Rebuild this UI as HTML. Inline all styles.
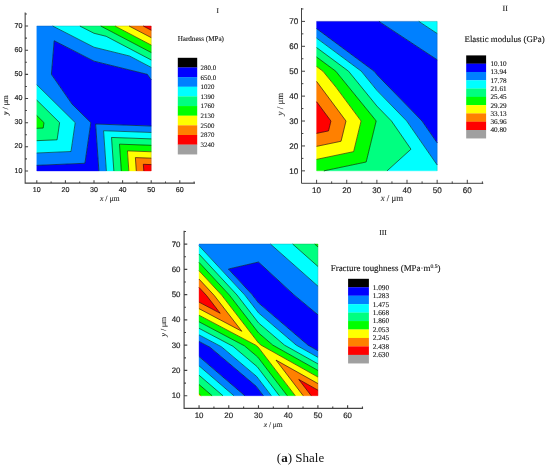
<!DOCTYPE html>
<html><head><meta charset="utf-8"><title>Shale</title>
<style>
html,body{margin:0;padding:0;background:#fff;}
body{width:550px;height:470px;overflow:hidden;position:relative;}
svg{position:absolute;left:0;top:0;display:block;}
.cap{position:absolute;left:0;top:449px;width:601px;text-align:center;font-family:"Liberation Serif","Times New Roman",serif;font-size:13px;line-height:18px;color:#111;white-space:nowrap;}
</style></head><body>
<svg width="550" height="470" viewBox="0 0 550 470" text-rendering="geometricPrecision">
<rect width="550" height="470" fill="#fff"/>
<g>
<path d="M72.00,104.07 L51.40,74.35 L54.20,40.74 L94.00,61.16 L147.39,74.35 L151.20,79.84 L151.20,126.04 L95.61,124.01 L98.90,170.95 L36.80,170.95 L36.80,165.35 L84.91,163.27 L90.83,122.65Z" fill="#0000FF" fill-rule="evenodd" stroke="#0000FF" stroke-width="0.4"/>
<path d="M36.80,84.76 L36.80,26.05 L52.73,26.05 L94.00,47.22 L129.44,55.98 L151.20,67.41 L151.20,79.84 L147.39,74.35 L94.00,61.16 L54.20,40.74 L51.40,74.35 L72.00,104.07 L90.83,122.65 L84.91,163.27 L36.80,165.35 L36.80,153.00 L71.00,151.53 L75.21,122.65ZM95.61,124.01 L151.20,126.04 L151.20,132.47 L103.57,130.73 L106.38,170.95 L98.90,170.95Z" fill="#0080FF" fill-rule="evenodd" stroke="#0080FF" stroke-width="0.4"/>
<path d="M151.20,132.47 L151.20,138.89 L111.53,137.45 L113.87,170.95 L106.38,170.95 L103.57,130.73ZM71.00,151.53 L36.80,153.00 L36.80,140.66 L57.09,139.79 L59.60,122.65 L36.80,100.17 L36.80,84.76 L75.21,122.65ZM129.44,55.98 L94.00,47.22 L52.73,26.05 L79.90,26.05 L94.00,33.28 L106.11,36.27 L151.20,59.96 L151.20,67.41Z" fill="#00FFFF" fill-rule="evenodd" stroke="#00FFFF" stroke-width="0.4"/>
<path d="M111.53,137.45 L151.20,138.89 L151.20,145.32 L119.48,144.17 L121.36,170.95 L113.87,170.95ZM59.60,122.65 L57.09,139.79 L36.80,140.66 L36.80,128.32 L43.19,128.04 L43.98,122.65 L36.80,115.57 L36.80,100.17ZM151.20,59.96 L106.11,36.27 L94.00,33.28 L79.90,26.05 L100.82,26.05 L151.20,52.51Z" fill="#00FF80" fill-rule="evenodd" stroke="#00FF80" stroke-width="0.4"/>
<path d="M119.48,144.17 L151.20,145.32 L151.20,151.75 L127.44,150.89 L128.84,170.95 L121.36,170.95ZM36.80,128.32 L36.80,115.57 L43.98,122.65 L43.19,128.04ZM151.20,45.07 L151.20,52.51 L100.82,26.05 L115.00,26.05Z" fill="#00FF00" fill-rule="evenodd" stroke="#00FF00" stroke-width="0.4"/>
<path d="M127.44,150.89 L151.20,151.75 L151.20,158.18 L135.39,157.60 L136.33,170.95 L128.84,170.95ZM129.17,26.05 L151.20,37.62 L151.20,45.07 L114.99,26.05Z" fill="#FFFF00" fill-rule="evenodd" stroke="#FFFF00" stroke-width="0.4"/>
<path d="M135.39,157.60 L151.20,158.18 L151.20,164.61 L143.35,164.32 L143.81,170.95 L136.33,170.95ZM143.35,26.05 L151.20,30.18 L151.20,37.62 L129.17,26.05Z" fill="#FF8000" fill-rule="evenodd" stroke="#FF8000" stroke-width="0.4"/>
<path d="M143.35,164.32 L151.20,164.61 L151.20,170.95 L143.81,170.95ZM151.20,26.05 L151.20,30.18 L143.35,26.05Z" fill="#FF0000" fill-rule="evenodd" stroke="#FF0000" stroke-width="0.4"/>
<path d="M36.80,165.35 L84.91,163.27 L90.83,122.65 L72.00,104.07 L51.40,74.35 L54.20,40.74 L94.00,61.16 L147.39,74.35 L151.20,79.84M98.90,170.95 L95.61,124.01 L151.20,126.04M36.80,153.00 L71.00,151.53 L75.21,122.65 L36.80,84.76M52.73,26.05 L94.00,47.22 L129.44,55.98 L151.20,67.41M106.38,170.95 L103.57,130.73 L151.20,132.47M36.80,140.66 L57.09,139.79 L59.60,122.65 L36.80,100.17M79.90,26.05 L94.00,33.28 L106.11,36.27 L151.20,59.96M113.87,170.95 L111.53,137.45 L151.20,138.89M36.80,128.32 L43.19,128.04 L43.98,122.65 L36.80,115.57M151.20,52.51 L100.82,26.05M121.36,170.95 L119.48,144.17 L151.20,145.32M151.20,45.07 L115.00,26.05M128.84,170.95 L127.44,150.89 L151.20,151.75M151.20,37.62 L129.17,26.05M136.33,170.95 L135.39,157.60 L151.20,158.18M151.20,30.18 L143.35,26.05M143.81,170.95 L143.35,164.32 L151.20,164.61" fill="none" stroke="#000" stroke-width="0.55" stroke-linejoin="round"/>
<path d="M36.80,26.05 H151.20 V170.95" fill="none" stroke="#000" stroke-opacity="0.35" stroke-width="0.4"/>
<path d="M25.15,13.00 V183.10 H194.50M36.80,183.10 v-2.40M65.40,183.10 v-2.40M94.00,183.10 v-2.40M122.60,183.10 v-2.40M151.20,183.10 v-2.40M179.80,183.10 v-2.40M51.10,183.10 v-1.20M79.70,183.10 v-1.20M108.30,183.10 v-1.20M136.90,183.10 v-1.20M165.50,183.10 v-1.20M194.10,183.10 v-1.20M25.15,170.95 h2.40M25.15,146.80 h2.40M25.15,122.65 h2.40M25.15,98.50 h2.40M25.15,74.35 h2.40M25.15,50.20 h2.40M25.15,26.05 h2.40M25.15,158.88 h1.20M25.15,134.72 h1.20M25.15,110.57 h1.20M25.15,86.42 h1.20M25.15,62.28 h1.20M25.15,38.12 h1.20M25.15,13.98 h1.20" fill="none" stroke="#404040" stroke-width="1.05" stroke-linecap="square"/>
<text x="36.80" y="191.60" font-size="7.10" text-anchor="middle" font-family="Liberation Sans, Arial, sans-serif" stroke="#222" stroke-width="0.18" fill="#222">10</text>
<text x="65.40" y="191.60" font-size="7.10" text-anchor="middle" font-family="Liberation Sans, Arial, sans-serif" stroke="#222" stroke-width="0.18" fill="#222">20</text>
<text x="94.00" y="191.60" font-size="7.10" text-anchor="middle" font-family="Liberation Sans, Arial, sans-serif" stroke="#222" stroke-width="0.18" fill="#222">30</text>
<text x="122.60" y="191.60" font-size="7.10" text-anchor="middle" font-family="Liberation Sans, Arial, sans-serif" stroke="#222" stroke-width="0.18" fill="#222">40</text>
<text x="151.20" y="191.60" font-size="7.10" text-anchor="middle" font-family="Liberation Sans, Arial, sans-serif" stroke="#222" stroke-width="0.18" fill="#222">50</text>
<text x="179.80" y="191.60" font-size="7.10" text-anchor="middle" font-family="Liberation Sans, Arial, sans-serif" stroke="#222" stroke-width="0.18" fill="#222">60</text>
<text x="22.45" y="172.59" font-size="7.10" text-anchor="end" font-family="Liberation Sans, Arial, sans-serif" stroke="#222" stroke-width="0.18" fill="#222">10</text>
<text x="22.45" y="148.44" font-size="7.10" text-anchor="end" font-family="Liberation Sans, Arial, sans-serif" stroke="#222" stroke-width="0.18" fill="#222">20</text>
<text x="22.45" y="124.29" font-size="7.10" text-anchor="end" font-family="Liberation Sans, Arial, sans-serif" stroke="#222" stroke-width="0.18" fill="#222">30</text>
<text x="22.45" y="100.14" font-size="7.10" text-anchor="end" font-family="Liberation Sans, Arial, sans-serif" stroke="#222" stroke-width="0.18" fill="#222">40</text>
<text x="22.45" y="75.99" font-size="7.10" text-anchor="end" font-family="Liberation Sans, Arial, sans-serif" stroke="#222" stroke-width="0.18" fill="#222">50</text>
<text x="22.45" y="51.84" font-size="7.10" text-anchor="end" font-family="Liberation Sans, Arial, sans-serif" stroke="#222" stroke-width="0.18" fill="#222">60</text>
<text x="22.45" y="27.69" font-size="7.10" text-anchor="end" font-family="Liberation Sans, Arial, sans-serif" stroke="#222" stroke-width="0.18" fill="#222">70</text>
<text x="109.80" y="201.30" font-size="7.80" text-anchor="middle" font-family="Liberation Serif, Times New Roman, serif" stroke="#222" stroke-width="0.12" fill="#333"><tspan font-style="italic">x</tspan> / μm</text>
<text transform="translate(8.30,105.00) rotate(-90)" font-size="7.80" text-anchor="middle" font-family="Liberation Serif, Times New Roman, serif" stroke="#222" stroke-width="0.12" fill="#333"><tspan font-style="italic">y</tspan> / μm</text>
<rect x="177.80" y="57.80" width="19.40" height="9.80" fill="#000000"/>
<rect x="177.80" y="67.45" width="19.40" height="9.80" fill="#0000FF"/>
<rect x="177.80" y="77.10" width="19.40" height="9.80" fill="#0080FF"/>
<rect x="177.80" y="86.75" width="19.40" height="9.80" fill="#00FFFF"/>
<rect x="177.80" y="96.40" width="19.40" height="9.80" fill="#00FF80"/>
<rect x="177.80" y="106.05" width="19.40" height="9.80" fill="#00FF00"/>
<rect x="177.80" y="115.70" width="19.40" height="9.80" fill="#FFFF00"/>
<rect x="177.80" y="125.35" width="19.40" height="9.80" fill="#FF8000"/>
<rect x="177.80" y="135.00" width="19.40" height="9.80" fill="#FF0000"/>
<rect x="177.80" y="144.65" width="19.40" height="9.80" fill="#A0A0A0"/>
<text x="200.60" y="69.85" font-size="6.90" font-family="Liberation Serif, Times New Roman, serif" stroke="#222" stroke-width="0.12" fill="#111">280.0</text>
<text x="200.60" y="79.50" font-size="6.90" font-family="Liberation Serif, Times New Roman, serif" stroke="#222" stroke-width="0.12" fill="#111">650.0</text>
<text x="200.60" y="89.15" font-size="6.90" font-family="Liberation Serif, Times New Roman, serif" stroke="#222" stroke-width="0.12" fill="#111">1020</text>
<text x="200.60" y="98.80" font-size="6.90" font-family="Liberation Serif, Times New Roman, serif" stroke="#222" stroke-width="0.12" fill="#111">1390</text>
<text x="200.60" y="108.45" font-size="6.90" font-family="Liberation Serif, Times New Roman, serif" stroke="#222" stroke-width="0.12" fill="#111">1760</text>
<text x="200.60" y="118.10" font-size="6.90" font-family="Liberation Serif, Times New Roman, serif" stroke="#222" stroke-width="0.12" fill="#111">2130</text>
<text x="200.60" y="127.75" font-size="6.90" font-family="Liberation Serif, Times New Roman, serif" stroke="#222" stroke-width="0.12" fill="#111">2500</text>
<text x="200.60" y="137.40" font-size="6.90" font-family="Liberation Serif, Times New Roman, serif" stroke="#222" stroke-width="0.12" fill="#111">2870</text>
<text x="200.60" y="147.05" font-size="6.90" font-family="Liberation Serif, Times New Roman, serif" stroke="#222" stroke-width="0.12" fill="#111">3240</text>
<text x="177.70" y="41.40" font-size="7.10" font-family="Liberation Serif, Times New Roman, serif" stroke="#222" stroke-width="0.12" fill="#111">Hardness (MPa)</text>
<text x="216.40" y="12.90" font-size="7.20" font-family="Liberation Serif, Times New Roman, serif" stroke="#222" stroke-width="0.12" fill="#111">I</text>
</g>
<g>
<path d="M437.15,59.74 L437.15,142.86 L422.04,121.03 L376.88,74.66 L374.08,71.22 L316.60,28.65 L316.60,21.40 L378.95,21.40Z" fill="#0000FF" fill-rule="evenodd" stroke="#0000FF" stroke-width="0.4"/>
<path d="M376.88,90.37 L361.29,71.22 L316.60,38.12 L316.60,28.65 L374.08,71.22 L376.88,74.66 L422.04,121.03 L437.15,142.86 L437.15,164.98 L406.73,121.03ZM437.15,33.50 L437.15,59.74 L378.95,21.40 L418.79,21.40Z" fill="#0080FF" fill-rule="evenodd" stroke="#0080FF" stroke-width="0.4"/>
<path d="M391.47,121.03 L376.88,106.05 L348.54,71.22 L316.60,47.57 L316.60,38.12 L361.29,71.22 L376.88,90.37 L406.73,121.03 L437.15,164.98 L437.15,170.85 L387.04,170.85 L410.97,149.21ZM437.15,33.50 L418.79,21.40 L437.15,21.40Z" fill="#00FFFF" fill-rule="evenodd" stroke="#00FFFF" stroke-width="0.4"/>
<path d="M391.47,121.03 L410.97,149.21 L387.04,170.85 L323.89,170.85 L366.17,162.01 L376.17,121.03 L375.05,119.52 L335.75,71.22 L316.60,57.04 L316.60,47.57 L348.54,71.22 L376.88,106.05Z" fill="#00FF80" fill-rule="evenodd" stroke="#00FF80" stroke-width="0.4"/>
<path d="M361.07,121.03 L336.01,87.26 L322.96,71.22 L316.60,66.51 L316.60,57.04 L335.75,71.22 L375.05,119.52 L376.17,121.03 L366.17,162.01 L323.89,170.85 L316.60,170.85 L316.60,159.36 L353.61,151.62Z" fill="#00FF00" fill-rule="evenodd" stroke="#00FF00" stroke-width="0.4"/>
<path d="M345.97,121.03 L316.60,81.44 L316.60,66.51 L322.96,71.22 L336.01,87.26 L361.07,121.03 L353.61,151.62 L316.60,159.36 L316.60,146.35 L341.04,141.24Z" fill="#FFFF00" fill-rule="evenodd" stroke="#FFFF00" stroke-width="0.4"/>
<path d="M328.51,130.88 L330.91,121.03 L316.60,101.74 L316.60,81.44 L345.97,121.03 L341.04,141.24 L316.60,146.35 L316.60,133.37Z" fill="#FF8000" fill-rule="evenodd" stroke="#FF8000" stroke-width="0.4"/>
<path d="M328.51,130.88 L316.60,133.37 L316.60,101.74 L330.91,121.03Z" fill="#FF0000" fill-rule="evenodd" stroke="#FF0000" stroke-width="0.4"/>
<path d="M316.60,28.65 L374.08,71.22 L376.88,74.66 L422.04,121.03 L437.15,142.86M437.15,59.74 L378.95,21.40M316.60,38.12 L361.29,71.22 L376.88,90.37 L406.73,121.03 L437.15,164.98M437.15,33.50 L418.79,21.40M387.04,170.85 L410.97,149.21 L391.47,121.03 L376.88,106.05 L348.54,71.22 L316.60,47.57M323.89,170.85 L366.17,162.01 L376.17,121.03 L375.05,119.52 L335.75,71.22 L316.60,57.04M316.60,159.36 L353.61,151.62 L361.07,121.03 L336.01,87.26 L322.96,71.22 L316.60,66.51M316.60,146.35 L341.04,141.24 L345.97,121.03 L316.60,81.44M316.60,133.37 L328.51,130.88 L330.91,121.03 L316.60,101.74" fill="none" stroke="#000" stroke-width="0.55" stroke-linejoin="round"/>
<path d="M316.60,21.40 H437.15 V170.85" fill="none" stroke="#000" stroke-opacity="0.35" stroke-width="0.4"/>
<path d="M301.50,8.50 V183.30 H482.80M316.60,183.30 v-3.00M346.74,183.30 v-3.00M376.88,183.30 v-3.00M407.01,183.30 v-3.00M437.15,183.30 v-3.00M467.29,183.30 v-3.00M331.67,183.30 v-1.40M361.81,183.30 v-1.40M391.94,183.30 v-1.40M422.08,183.30 v-1.40M452.22,183.30 v-1.40M482.36,183.30 v-1.40M301.50,170.85 h3.00M301.50,145.94 h3.00M301.50,121.03 h3.00M301.50,96.12 h3.00M301.50,71.22 h3.00M301.50,46.31 h3.00M301.50,21.40 h3.00M301.50,158.40 h1.40M301.50,133.49 h1.40M301.50,108.58 h1.40M301.50,83.67 h1.40M301.50,58.76 h1.40M301.50,33.85 h1.40M301.50,8.95 h1.40" fill="none" stroke="#444" stroke-width="1.00" stroke-linecap="square"/>
<text x="316.60" y="193.10" font-size="8.10" text-anchor="middle" font-family="Liberation Sans, Arial, sans-serif" stroke="#222" stroke-width="0.18" fill="#222">10</text>
<text x="346.74" y="193.10" font-size="8.10" text-anchor="middle" font-family="Liberation Sans, Arial, sans-serif" stroke="#222" stroke-width="0.18" fill="#222">20</text>
<text x="376.88" y="193.10" font-size="8.10" text-anchor="middle" font-family="Liberation Sans, Arial, sans-serif" stroke="#222" stroke-width="0.18" fill="#222">30</text>
<text x="407.01" y="193.10" font-size="8.10" text-anchor="middle" font-family="Liberation Sans, Arial, sans-serif" stroke="#222" stroke-width="0.18" fill="#222">40</text>
<text x="437.15" y="193.10" font-size="8.10" text-anchor="middle" font-family="Liberation Sans, Arial, sans-serif" stroke="#222" stroke-width="0.18" fill="#222">50</text>
<text x="467.29" y="193.10" font-size="8.10" text-anchor="middle" font-family="Liberation Sans, Arial, sans-serif" stroke="#222" stroke-width="0.18" fill="#222">60</text>
<text x="298.30" y="173.60" font-size="8.10" text-anchor="end" font-family="Liberation Sans, Arial, sans-serif" stroke="#222" stroke-width="0.18" fill="#222">10</text>
<text x="298.30" y="148.69" font-size="8.10" text-anchor="end" font-family="Liberation Sans, Arial, sans-serif" stroke="#222" stroke-width="0.18" fill="#222">20</text>
<text x="298.30" y="123.78" font-size="8.10" text-anchor="end" font-family="Liberation Sans, Arial, sans-serif" stroke="#222" stroke-width="0.18" fill="#222">30</text>
<text x="298.30" y="98.87" font-size="8.10" text-anchor="end" font-family="Liberation Sans, Arial, sans-serif" stroke="#222" stroke-width="0.18" fill="#222">40</text>
<text x="298.30" y="73.97" font-size="8.10" text-anchor="end" font-family="Liberation Sans, Arial, sans-serif" stroke="#222" stroke-width="0.18" fill="#222">50</text>
<text x="298.30" y="49.06" font-size="8.10" text-anchor="end" font-family="Liberation Sans, Arial, sans-serif" stroke="#222" stroke-width="0.18" fill="#222">60</text>
<text x="298.30" y="24.15" font-size="8.10" text-anchor="end" font-family="Liberation Sans, Arial, sans-serif" stroke="#222" stroke-width="0.18" fill="#222">70</text>
<text x="391.90" y="201.45" font-size="8.90" text-anchor="middle" font-family="Liberation Serif, Times New Roman, serif" stroke="#222" stroke-width="0.12" fill="#333"><tspan font-style="italic">x</tspan> / μm</text>
<text transform="translate(282.80,104.20) rotate(-90)" font-size="8.90" text-anchor="middle" font-family="Liberation Serif, Times New Roman, serif" stroke="#222" stroke-width="0.12" fill="#333"><tspan font-style="italic">y</tspan> / μm</text>
<rect x="466.20" y="55.40" width="19.90" height="8.44" fill="#000000"/>
<rect x="466.20" y="63.69" width="19.90" height="8.44" fill="#0000FF"/>
<rect x="466.20" y="71.98" width="19.90" height="8.44" fill="#0080FF"/>
<rect x="466.20" y="80.27" width="19.90" height="8.44" fill="#00FFFF"/>
<rect x="466.20" y="88.56" width="19.90" height="8.44" fill="#00FF80"/>
<rect x="466.20" y="96.85" width="19.90" height="8.44" fill="#00FF00"/>
<rect x="466.20" y="105.14" width="19.90" height="8.44" fill="#FFFF00"/>
<rect x="466.20" y="113.43" width="19.90" height="8.44" fill="#FF8000"/>
<rect x="466.20" y="121.72" width="19.90" height="8.44" fill="#FF0000"/>
<rect x="466.20" y="130.01" width="19.90" height="8.44" fill="#A0A0A0"/>
<text x="490.40" y="66.09" font-size="7.20" font-family="Liberation Serif, Times New Roman, serif" stroke="#222" stroke-width="0.12" fill="#111">10.10</text>
<text x="490.40" y="74.38" font-size="7.20" font-family="Liberation Serif, Times New Roman, serif" stroke="#222" stroke-width="0.12" fill="#111">13.94</text>
<text x="490.40" y="82.67" font-size="7.20" font-family="Liberation Serif, Times New Roman, serif" stroke="#222" stroke-width="0.12" fill="#111">17.78</text>
<text x="490.40" y="90.96" font-size="7.20" font-family="Liberation Serif, Times New Roman, serif" stroke="#222" stroke-width="0.12" fill="#111">21.61</text>
<text x="490.40" y="99.25" font-size="7.20" font-family="Liberation Serif, Times New Roman, serif" stroke="#222" stroke-width="0.12" fill="#111">25.45</text>
<text x="490.40" y="107.54" font-size="7.20" font-family="Liberation Serif, Times New Roman, serif" stroke="#222" stroke-width="0.12" fill="#111">29.29</text>
<text x="490.40" y="115.83" font-size="7.20" font-family="Liberation Serif, Times New Roman, serif" stroke="#222" stroke-width="0.12" fill="#111">33.13</text>
<text x="490.40" y="124.12" font-size="7.20" font-family="Liberation Serif, Times New Roman, serif" stroke="#222" stroke-width="0.12" fill="#111">36.96</text>
<text x="490.40" y="132.41" font-size="7.20" font-family="Liberation Serif, Times New Roman, serif" stroke="#222" stroke-width="0.12" fill="#111">40.80</text>
<text x="464.50" y="41.60" font-size="8.85" font-family="Liberation Serif, Times New Roman, serif" stroke="#222" stroke-width="0.12" fill="#111">Elastic modulus (GPa)</text>
<text x="502.60" y="10.60" font-size="8.00" font-family="Liberation Serif, Times New Roman, serif" stroke="#222" stroke-width="0.12" fill="#111">II</text>
</g>
<g>
<path d="M209.97,347.23 L256.07,386.13 L263.37,395.70 L244.75,395.70 L199.05,356.57 L199.05,341.46ZM228.38,269.04 L258.47,262.04 L293.77,294.63 L317.90,314.77 L317.90,350.73 L307.98,345.17 L258.48,302.86 L252.22,294.74Z" fill="#0000FF" fill-rule="evenodd" stroke="#0000FF" stroke-width="0.4"/>
<path d="M199.05,365.88 L199.05,356.57 L244.75,395.70 L233.87,395.70ZM221.42,346.74 L256.64,376.45 L271.32,395.70 L263.37,395.70 L256.07,386.13 L209.97,347.23 L199.05,341.46 L199.05,334.91ZM199.05,244.10 L270.54,244.10 L317.90,286.08 L317.90,314.77 L293.77,294.63 L258.47,262.04 L228.38,269.04 L252.22,294.74 L258.48,302.86 L307.98,345.17 L317.90,350.73 L317.90,357.29 L296.29,345.17 L258.48,312.85 L244.63,294.87 L199.05,245.75Z" fill="#0080FF" fill-rule="evenodd" stroke="#0080FF" stroke-width="0.4"/>
<path d="M256.64,376.45 L221.42,346.74 L199.05,334.91 L199.05,328.33 L232.94,346.25 L257.21,366.73 L279.31,395.70 L271.32,395.70ZM199.05,375.24 L199.05,365.88 L233.87,395.70 L222.95,395.70ZM317.90,357.29 L317.90,363.88 L284.53,345.17 L258.48,322.89 L236.99,295.00 L199.05,254.11 L199.05,245.75 L244.63,294.87 L258.48,312.85 L296.29,345.17ZM317.90,286.08 L270.54,244.10 L292.73,244.10 L317.90,266.41Z" fill="#00FFFF" fill-rule="evenodd" stroke="#00FFFF" stroke-width="0.4"/>
<path d="M199.05,384.55 L199.05,375.24 L222.95,395.70 L212.07,395.70ZM257.21,366.73 L232.94,346.25 L199.05,328.33 L199.05,321.79 L244.39,345.77 L257.78,357.06 L287.26,395.70 L279.31,395.70ZM317.90,363.88 L317.90,370.43 L272.84,345.17 L258.48,332.88 L229.40,295.13 L199.05,262.42 L199.05,254.11 L236.99,295.00 L258.48,322.89 L284.53,345.17ZM317.90,266.41 L292.73,244.10 L314.80,244.10 L317.90,246.85Z" fill="#00FF80" fill-rule="evenodd" stroke="#00FF80" stroke-width="0.4"/>
<path d="M199.05,393.91 L199.05,384.55 L212.07,395.70 L201.15,395.70ZM257.78,357.06 L244.39,345.77 L199.05,321.79 L199.05,315.21 L255.91,345.28 L258.35,347.33 L295.25,395.70 L287.26,395.70ZM317.90,370.43 L317.90,377.02 L261.09,345.17 L258.48,342.93 L221.76,295.26 L199.05,270.78 L199.05,262.42 L229.40,295.13 L258.48,332.88 L272.84,345.17ZM314.80,244.10 L317.90,244.10 L317.90,246.85Z" fill="#00FF00" fill-rule="evenodd" stroke="#00FF00" stroke-width="0.4"/>
<path d="M199.05,393.91 L201.15,395.70 L199.05,395.70ZM295.25,395.70 L258.35,347.33 L255.91,345.28 L199.05,315.21 L199.05,308.66 L241.80,331.27 L214.16,295.39 L199.05,279.10 L199.05,270.78 L221.76,295.26 L258.48,342.93 L261.09,345.17 L317.90,377.02 L317.90,383.58 L276.04,360.11 L303.20,395.70Z" fill="#FFFF00" fill-rule="evenodd" stroke="#FFFF00" stroke-width="0.4"/>
<path d="M276.04,360.11 L317.90,383.58 L317.90,390.17 L298.80,379.46 L311.19,395.70 L303.20,395.70ZM206.53,295.52 L199.05,287.46 L199.05,279.10 L214.16,295.39 L241.80,331.27 L199.05,308.66 L199.05,302.09 L220.20,313.27Z" fill="#FF8000" fill-rule="evenodd" stroke="#FF8000" stroke-width="0.4"/>
<path d="M298.80,379.46 L317.90,390.17 L317.90,395.70 L311.19,395.70ZM220.20,313.27 L199.05,302.09 L199.05,287.46 L206.53,295.52Z" fill="#FF0000" fill-rule="evenodd" stroke="#FF0000" stroke-width="0.4"/>
<path d="M199.05,356.57 L244.75,395.70M199.05,341.46 L209.97,347.23 L256.07,386.13 L263.37,395.70M317.90,350.73 L307.98,345.17 L258.48,302.86 L252.22,294.74 L228.38,269.04 L258.48,262.04 L293.77,294.63 L317.90,314.77M199.05,365.88 L233.87,395.70M199.05,334.91 L221.42,346.74 L256.64,376.45 L271.32,395.70M199.05,245.75 L244.63,294.87 L258.48,312.85 L296.29,345.17 L317.90,357.29M317.90,286.08 L270.54,244.10M199.05,375.24 L222.95,395.70M199.05,328.33 L232.94,346.25 L257.21,366.73 L279.31,395.70M199.05,254.11 L236.99,295.00 L258.48,322.89 L284.53,345.17 L317.90,363.88M317.90,266.41 L292.73,244.10M199.05,384.55 L212.07,395.70M199.05,321.79 L244.39,345.77 L257.78,357.06 L287.26,395.70M199.05,262.42 L229.40,295.13 L258.48,332.88 L272.84,345.17 L317.90,370.43M317.90,246.85 L314.80,244.10M199.05,393.91 L201.15,395.70M199.05,315.21 L255.91,345.28 L258.35,347.33 L295.25,395.70M199.05,270.78 L221.76,295.26 L258.48,342.93 L261.09,345.17 L317.90,377.02M199.05,308.66 L241.80,331.27 L214.16,295.39 L199.05,279.10M303.20,395.70 L276.04,360.11 L317.90,383.58M199.05,302.09 L220.20,313.27 L206.53,295.52 L199.05,287.46M311.19,395.70 L298.80,379.46 L317.90,390.17" fill="none" stroke="#000" stroke-width="0.55" stroke-linejoin="round"/>
<path d="M199.05,244.10 H317.90 V395.70" fill="none" stroke="#000" stroke-opacity="0.35" stroke-width="0.4"/>
<path d="M184.10,231.40 V408.40 H362.50M199.05,408.40 v-2.60M228.76,408.40 v-2.60M258.48,408.40 v-2.60M288.19,408.40 v-2.60M317.90,408.40 v-2.60M347.61,408.40 v-2.60M213.91,408.40 v-1.30M243.62,408.40 v-1.30M273.33,408.40 v-1.30M303.04,408.40 v-1.30M332.76,408.40 v-1.30M362.47,408.40 v-1.30M184.10,395.70 h2.60M184.10,370.43 h2.60M184.10,345.17 h2.60M184.10,319.90 h2.60M184.10,294.63 h2.60M184.10,269.37 h2.60M184.10,244.10 h2.60M184.10,383.07 h1.30M184.10,357.80 h1.30M184.10,332.53 h1.30M184.10,307.27 h1.30M184.10,282.00 h1.30M184.10,256.73 h1.30M184.10,231.47 h1.30" fill="none" stroke="#444" stroke-width="1.15" stroke-linecap="square"/>
<text x="199.05" y="418.30" font-size="7.90" text-anchor="middle" font-family="Liberation Sans, Arial, sans-serif" stroke="#222" stroke-width="0.18" fill="#222">10</text>
<text x="228.76" y="418.30" font-size="7.90" text-anchor="middle" font-family="Liberation Sans, Arial, sans-serif" stroke="#222" stroke-width="0.18" fill="#222">20</text>
<text x="258.48" y="418.30" font-size="7.90" text-anchor="middle" font-family="Liberation Sans, Arial, sans-serif" stroke="#222" stroke-width="0.18" fill="#222">30</text>
<text x="288.19" y="418.30" font-size="7.90" text-anchor="middle" font-family="Liberation Sans, Arial, sans-serif" stroke="#222" stroke-width="0.18" fill="#222">40</text>
<text x="317.90" y="418.30" font-size="7.90" text-anchor="middle" font-family="Liberation Sans, Arial, sans-serif" stroke="#222" stroke-width="0.18" fill="#222">50</text>
<text x="347.61" y="418.30" font-size="7.90" text-anchor="middle" font-family="Liberation Sans, Arial, sans-serif" stroke="#222" stroke-width="0.18" fill="#222">60</text>
<text x="180.50" y="398.18" font-size="7.90" text-anchor="end" font-family="Liberation Sans, Arial, sans-serif" stroke="#222" stroke-width="0.18" fill="#222">10</text>
<text x="180.50" y="372.91" font-size="7.90" text-anchor="end" font-family="Liberation Sans, Arial, sans-serif" stroke="#222" stroke-width="0.18" fill="#222">20</text>
<text x="180.50" y="347.64" font-size="7.90" text-anchor="end" font-family="Liberation Sans, Arial, sans-serif" stroke="#222" stroke-width="0.18" fill="#222">30</text>
<text x="180.50" y="322.38" font-size="7.90" text-anchor="end" font-family="Liberation Sans, Arial, sans-serif" stroke="#222" stroke-width="0.18" fill="#222">40</text>
<text x="180.50" y="297.11" font-size="7.90" text-anchor="end" font-family="Liberation Sans, Arial, sans-serif" stroke="#222" stroke-width="0.18" fill="#222">50</text>
<text x="180.50" y="271.84" font-size="7.90" text-anchor="end" font-family="Liberation Sans, Arial, sans-serif" stroke="#222" stroke-width="0.18" fill="#222">60</text>
<text x="180.50" y="246.58" font-size="7.90" text-anchor="end" font-family="Liberation Sans, Arial, sans-serif" stroke="#222" stroke-width="0.18" fill="#222">70</text>
<text x="273.20" y="427.30" font-size="7.50" text-anchor="middle" font-family="Liberation Serif, Times New Roman, serif" stroke="#222" stroke-width="0.12" fill="#333"><tspan font-style="italic">x</tspan> / μm</text>
<text transform="translate(165.60,326.70) rotate(-90)" font-size="7.70" text-anchor="middle" font-family="Liberation Serif, Times New Roman, serif" stroke="#222" stroke-width="0.12" fill="#333"><tspan font-style="italic">y</tspan> / μm</text>
<rect x="348.10" y="278.80" width="20.80" height="8.60" fill="#000000"/>
<rect x="348.10" y="287.25" width="20.80" height="8.60" fill="#0000FF"/>
<rect x="348.10" y="295.70" width="20.80" height="8.60" fill="#0080FF"/>
<rect x="348.10" y="304.15" width="20.80" height="8.60" fill="#00FFFF"/>
<rect x="348.10" y="312.60" width="20.80" height="8.60" fill="#00FF80"/>
<rect x="348.10" y="321.05" width="20.80" height="8.60" fill="#00FF00"/>
<rect x="348.10" y="329.50" width="20.80" height="8.60" fill="#FFFF00"/>
<rect x="348.10" y="337.95" width="20.80" height="8.60" fill="#FF8000"/>
<rect x="348.10" y="346.40" width="20.80" height="8.60" fill="#FF0000"/>
<rect x="348.10" y="354.85" width="20.80" height="8.60" fill="#A0A0A0"/>
<text x="372.70" y="289.65" font-size="7.30" font-family="Liberation Serif, Times New Roman, serif" stroke="#222" stroke-width="0.12" fill="#111">1.090</text>
<text x="372.70" y="298.10" font-size="7.30" font-family="Liberation Serif, Times New Roman, serif" stroke="#222" stroke-width="0.12" fill="#111">1.283</text>
<text x="372.70" y="306.55" font-size="7.30" font-family="Liberation Serif, Times New Roman, serif" stroke="#222" stroke-width="0.12" fill="#111">1.475</text>
<text x="372.70" y="315.00" font-size="7.30" font-family="Liberation Serif, Times New Roman, serif" stroke="#222" stroke-width="0.12" fill="#111">1.668</text>
<text x="372.70" y="323.45" font-size="7.30" font-family="Liberation Serif, Times New Roman, serif" stroke="#222" stroke-width="0.12" fill="#111">1.860</text>
<text x="372.70" y="331.90" font-size="7.30" font-family="Liberation Serif, Times New Roman, serif" stroke="#222" stroke-width="0.12" fill="#111">2.053</text>
<text x="372.70" y="340.35" font-size="7.30" font-family="Liberation Serif, Times New Roman, serif" stroke="#222" stroke-width="0.12" fill="#111">2.245</text>
<text x="372.70" y="348.80" font-size="7.30" font-family="Liberation Serif, Times New Roman, serif" stroke="#222" stroke-width="0.12" fill="#111">2.438</text>
<text x="372.70" y="357.25" font-size="7.30" font-family="Liberation Serif, Times New Roman, serif" stroke="#222" stroke-width="0.12" fill="#111">2.630</text>
<text x="330.70" y="270.80" font-size="8.95" font-family="Liberation Serif, Times New Roman, serif" stroke="#222" stroke-width="0.12" fill="#111">Fracture toughness (MPa·m<tspan font-size="5.7" dy="-3.2">0.5</tspan><tspan dy="3.2">)</tspan></text>
<text x="379.20" y="234.80" font-size="7.70" font-family="Liberation Serif, Times New Roman, serif" stroke="#222" stroke-width="0.12" fill="#111">III</text>
</g>
</svg>
<div class="cap">(<b>a</b>) Shale</div>
</body></html>
